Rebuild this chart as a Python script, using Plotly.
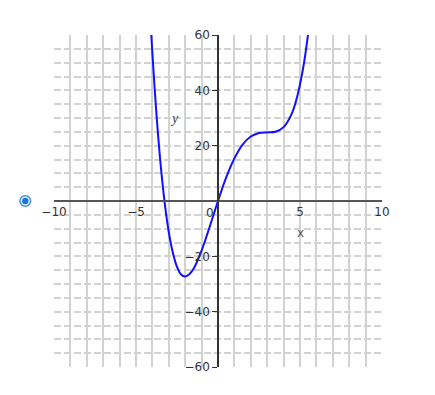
import plotly.graph_objects as go

# values
curve_x = [-4.1, -4.0, -3.75, -3.5, -3.25, -3.0, -2.75, -2.5, -2.25, -2.0, -1.75, -1.5, -1.0, -0.5,
           0.0, 0.5, 1.0, 1.5, 2.0, 2.5, 3.0, 3.5, 4.0, 4.5, 4.75, 5.0, 5.25, 5.5, 5.6]
curve_y = [63.5, 53.3, 31.2, 13.3, -0.7, -11.3, -18.8, -23.8, -26.6, -27.3, -26.5, -24.6, -17.9, -9.2,
           0.0, 8.5, 15.4, 20.4, 23.3, 24.6, 24.8, 25.0, 26.7, 31.6, 36.0, 42.1, 50.1, 60.6, 65.5]

x_tick_vals = [-10, -5, 5, 10]
x_tick_text = ["\u221210", "\u22125", "5", "10"]
y_tick_vals = [-60, -40, -20, 20, 40, 60]
y_tick_text = ["\u221260", "\u221240", "\u221220", "20", "40", "60"]

fig = go.Figure()
fig.add_trace(go.Scatter(x=curve_x, y=curve_y, mode="lines", line=dict(color="#1010ff", width=2, shape="spline"),
                         hoverinfo="skip", showlegend=False))

font = dict(family="DejaVu Sans", size=12, color="#333")

fig.update_layout(
    width=435, height=395,
    margin=dict(l=54, r=53, t=35, b=28),
    paper_bgcolor="white", plot_bgcolor="white",
    showlegend=False,
    xaxis=dict(range=[-10, 10], anchor="free", position=0.5, showline=True, linecolor="#555", linewidth=1.5,
               tickvals=x_tick_vals, ticktext=x_tick_text, ticks="", tickfont=font,
               showgrid=True, gridcolor="#d2d2d2", gridwidth=1.5,
               minor=dict(dtick=1, showgrid=True, gridcolor="#d2d2d2", gridwidth=1.5),
               zeroline=False, fixedrange=True),
    yaxis=dict(range=[-60, 60], anchor="free", position=0.5, showline=True, linecolor="#333", linewidth=1.5,
               tickvals=y_tick_vals, ticktext=y_tick_text, ticks="outside", ticklen=5, tickcolor="#333",
               tickfont=font,
               showgrid=True, gridcolor="#d2d2d2", gridwidth=1.5, griddash="7px,3px",
               minor=dict(dtick=5, showgrid=True, gridcolor="#d2d2d2", gridwidth=1.5, griddash="7px,3px"),
               zeroline=False, fixedrange=True),
    annotations=[
        dict(x=0, y=0, text="0", showarrow=False, xanchor="right", yanchor="top", xshift=-2, yshift=-3, font=font),
        dict(x=-2.64, y=29.8, text="<i>y</i>", showarrow=False,
             font=dict(family="Liberation Serif", size=14, color="#444")),
        dict(x=5.0, y=-11.5, text="x", showarrow=False,
             font=dict(family="DejaVu Sans", size=12, color="#555")),
    ],
    shapes=[
        dict(type="circle", xref="paper", yref="paper", xsizemode="pixel", ysizemode="pixel",
             xanchor=-0.0875, yanchor=0.5, x0=-5.3, x1=5.3, y0=-5.3, y1=5.3,
             line=dict(color="#3b8df5", width=1.5), fillcolor="white"),
        dict(type="circle", xref="paper", yref="paper", xsizemode="pixel", ysizemode="pixel",
             xanchor=-0.0875, yanchor=0.5, x0=-3.2, x1=3.2, y0=-3.2, y1=3.2,
             line=dict(width=0), fillcolor="#1a73e8"),
    ],
)

fig.write_html("out.html", config={"displayModeBar": False})
